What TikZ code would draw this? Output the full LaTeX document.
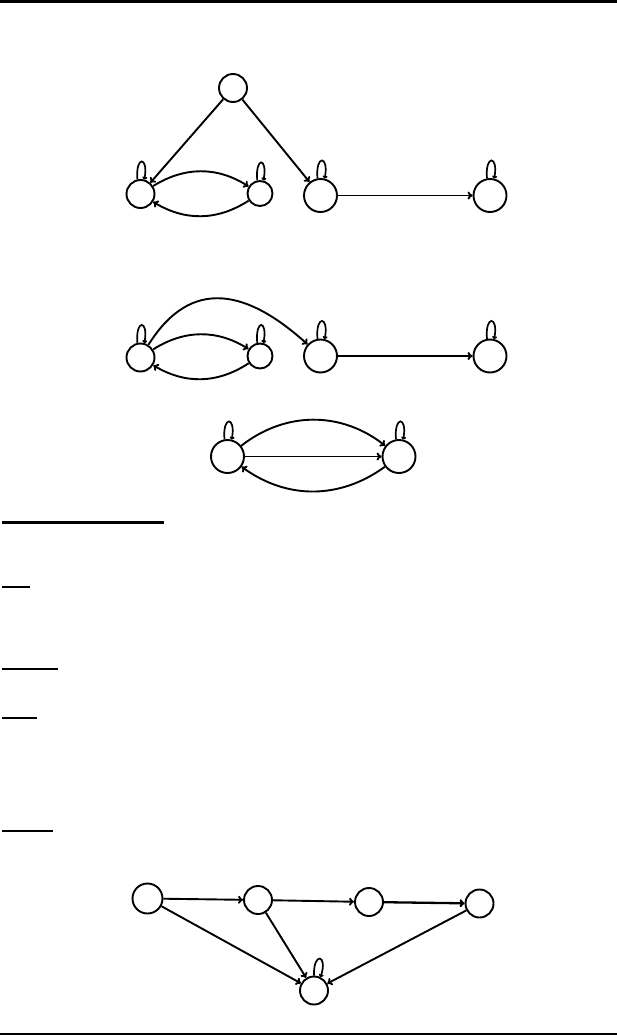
\documentclass[tikz,border=0pt]{standalone}
\usetikzlibrary{arrows.meta}
\tikzset{
  st/.style={circle,draw,line width=1.9pt,inner sep=0pt,minimum size=28pt},
  sm/.style={circle,draw,line width=1.9pt,inner sep=0pt,minimum size=25pt},
  bg/.style={circle,draw,line width=1.9pt,inner sep=0pt,minimum size=33pt},
  ar/.style={line width=1.9pt,-{To[length=5pt,width=8pt]}},
  lp/.style={line width=1.7pt,-{To[length=3pt,width=5pt]}},
  rule/.style={line width=#1,line cap=butt},
}
\begin{document}
\begin{tikzpicture}[x=1pt,y=1pt]
\useasboundingbox (0,0) rectangle (617,-1036);
% page rules
\draw[rule=2.6pt] (0,-1.3) -- (617,-1.3);
\draw[rule=2.6pt] (0,-1034) -- (617,-1034);
% underlines
\draw[rule=2.6pt] (2,-522.7) -- (164,-522.7);
\draw[rule=1.5pt] (2,-587) -- (30,-587);
\draw[rule=2.4pt] (2,-669) -- (58,-669);
\draw[rule=2pt] (2,-718) -- (37,-718);
\draw[rule=2.2pt] (2,-831) -- (53,-831);

% ---- group 1
\node[st] (T) at (233,-88) {};
\node[st] (A) at (140.5,-194) {};
\node[sm] (B) at (260,-193.5) {};
\node[bg] (C) at (320.5,-195.5) {};
\node[bg] (D) at (490,-195.5) {};
\draw[ar] (T) -- (A);
\draw[ar] (T) -- (C);
\draw[ar] (A) to[bend left=32] (B);
\draw[ar] (B) to[bend left=32] (A);
\draw[ar] (C) -- (D);
\draw[lp] (A.102) .. controls +(95:24) and +(80:24) .. (A.75);
\draw[lp] (B.102) .. controls +(95:24) and +(80:24) .. (B.75);
\draw[lp] (C.100) .. controls +(95:24) and +(80:24) .. (C.76);
\draw[lp] (D.100) .. controls +(95:24) and +(80:24) .. (D.76);

% ---- group 2
\node[st] (A2) at (140.5,-357.5) {};
\node[sm] (B2) at (260,-356) {};
\node[bg] (C2) at (320.5,-356) {};
\node[bg] (D2) at (490,-356) {};
\draw[ar] (A2) to[out=58,in=138,looseness=1.3] (C2);
\draw[ar] (A2) to[bend left=32] (B2);
\draw[ar] (B2) to[bend left=32] (A2);
\draw[ar] (C2) -- (D2);
\draw[lp] (A2.102) .. controls +(95:24) and +(80:24) .. (A2.75);
\draw[lp] (B2.102) .. controls +(95:24) and +(80:24) .. (B2.75);
\draw[lp] (C2.100) .. controls +(95:24) and +(80:24) .. (C2.76);
\draw[lp] (D2.100) .. controls +(95:24) and +(80:24) .. (D2.76);

% ---- group 3
\node[bg] (E) at (227.5,-456.5) {};
\node[bg] (F) at (399,-456.5) {};
\draw[ar] (E) to[bend left=38] (F);
\draw[ar] (E) -- (F);
\draw[ar] (F) to[bend left=36] (E);
\draw[lp] (E.100) .. controls +(95:24) and +(80:24) .. (E.76);
\draw[lp] (F.100) .. controls +(95:24) and +(80:24) .. (F.76);

% ---- group 4
\node[st,minimum size=30pt] (N1) at (147.5,-898.5) {};
\node[st] (N2) at (258,-900) {};
\node[st] (N3) at (369,-902) {};
\node[st] (N4) at (479.5,-903.5) {};
\node[st] (N5) at (314,-990.5) {};
\draw[ar] (N1) -- (N2);
\draw[ar] (N2) -- (N3);
\draw[ar,line width=2.3pt] (N3) -- (N4);
\draw[ar] (N1) -- (N5);
\draw[ar] (N2) -- (N5);
\draw[ar] (N4) -- (N5);
\draw[lp] (N5.90) .. controls +(92:24) and +(72:24) .. (N5.64);
\end{tikzpicture}
\end{document}
